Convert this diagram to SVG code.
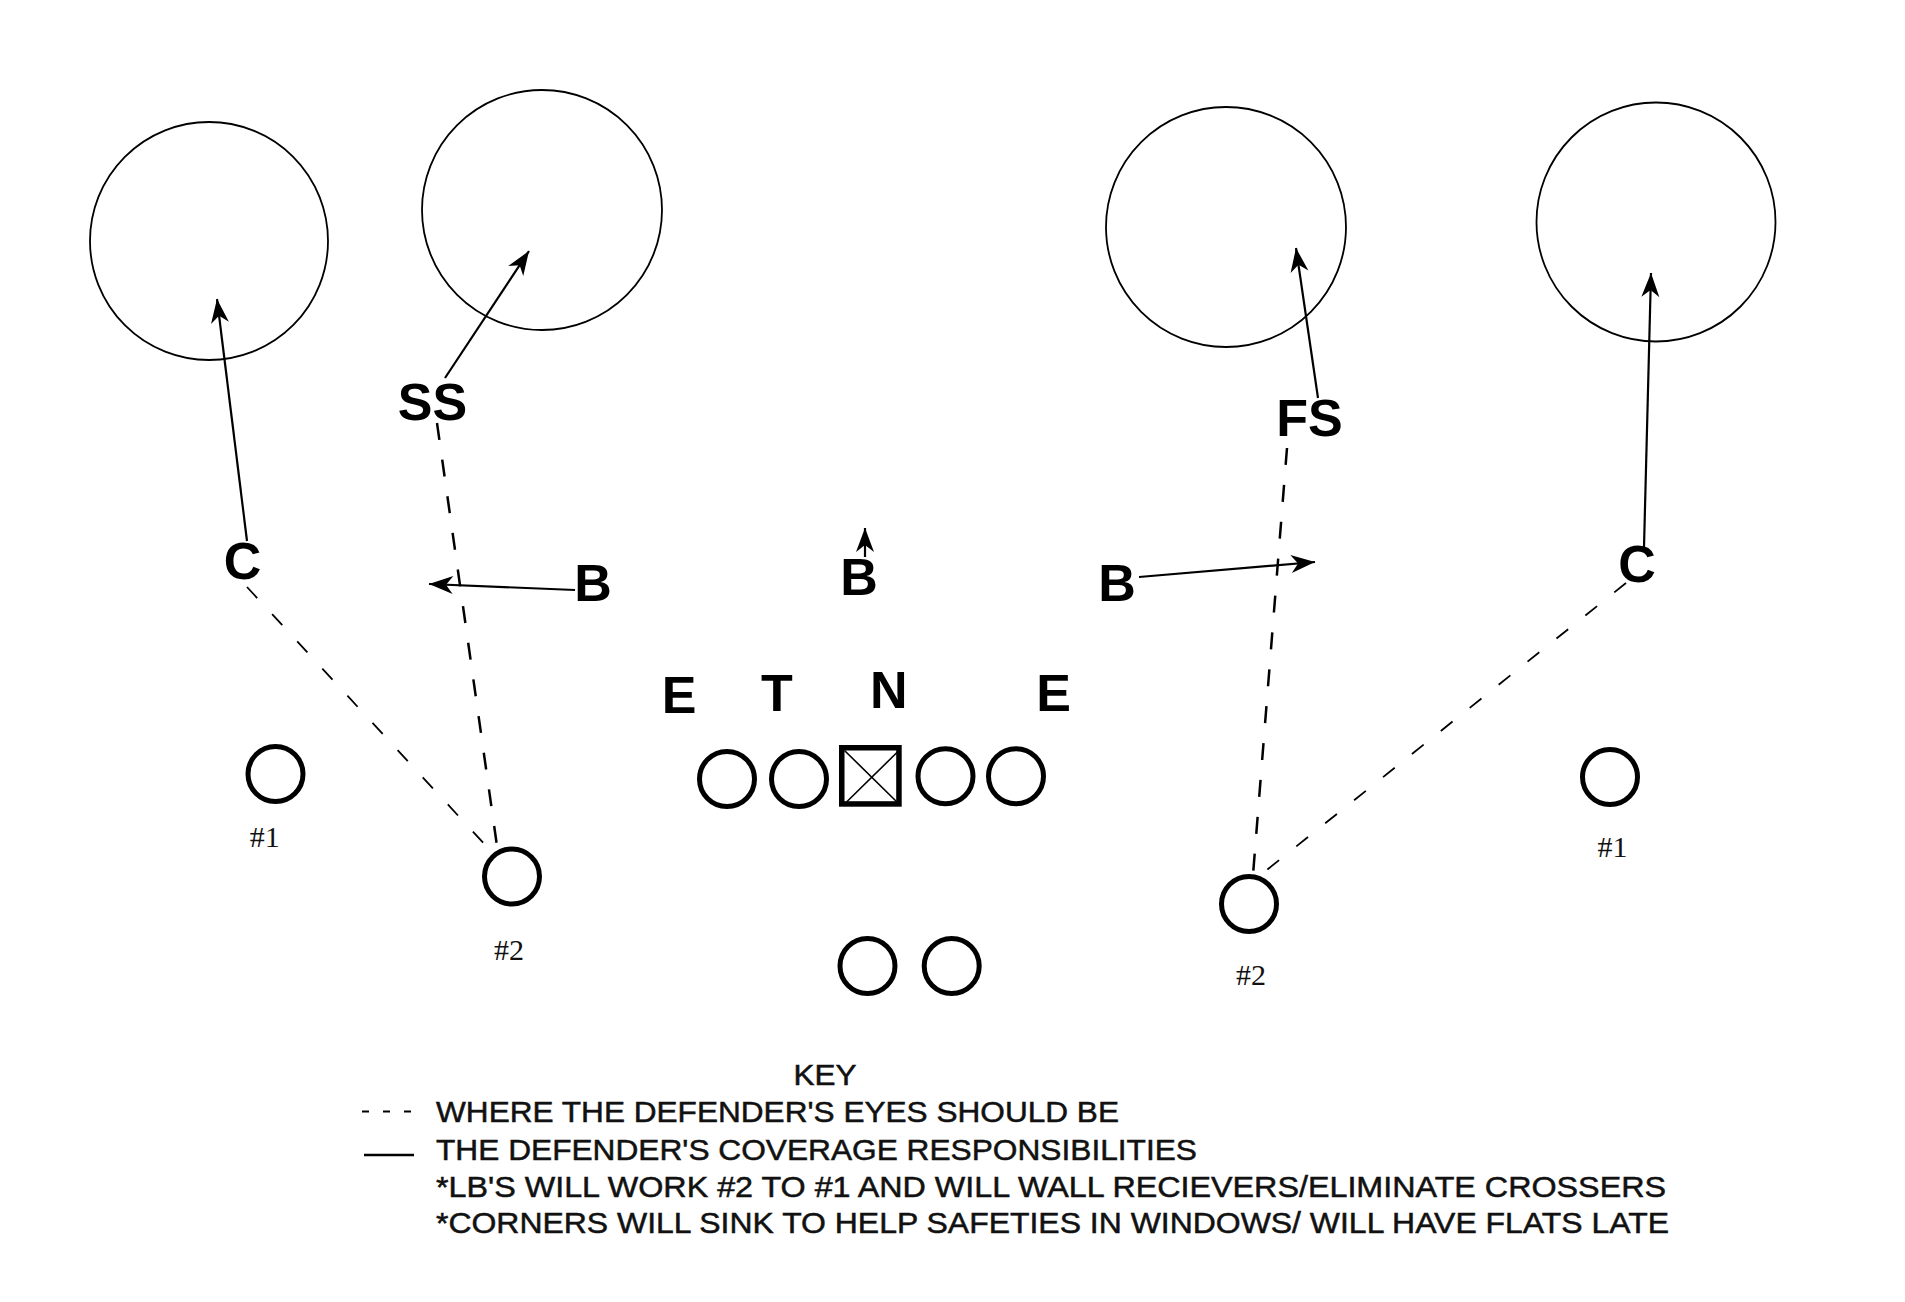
<svg xmlns="http://www.w3.org/2000/svg" width="1905" height="1302" viewBox="0 0 1905 1302">
<style>
.zone{fill:none;stroke:#000;stroke-width:1.8}
.pl{fill:none;stroke:#000;stroke-width:5}
.lbl{font-family:"Liberation Sans",Arial,sans-serif;font-weight:bold;font-size:52px;text-anchor:middle;fill:#000}
.num{font-family:"Liberation Serif","Times New Roman",serif;font-size:30px;text-anchor:middle;fill:#111}
.key{font-family:"Liberation Sans",Arial,sans-serif;font-size:29px;fill:#111;stroke:#111;stroke-width:0.5}
.cov{fill:none;stroke:#000;stroke-width:2.2;marker-end:url(#ah)}
.eye{fill:none;stroke:#000;stroke-width:2.5;stroke-dasharray:17 20}
.eye2{fill:none;stroke:#000;stroke-width:1.8;stroke-dasharray:15 22}
</style>
<defs>
<marker id="ah" markerUnits="userSpaceOnUse" viewBox="-26 -11 28 22" refX="0" refY="0" markerWidth="28" markerHeight="22" orient="auto">
<path d="M0,0 L-24,-9 L-17,0 L-24,9 Z" fill="#000"/>
</marker>
</defs>
<rect width="1905" height="1302" fill="#fff"/>

<g id="zones">
<circle id="zone-c-left" class="zone" cx="209" cy="241" r="119"/>
<circle id="zone-ss" class="zone" cx="542" cy="210" r="120"/>
<circle id="zone-fs" class="zone" cx="1226" cy="227" r="120"/>
<circle id="zone-c-right" class="zone" cx="1656" cy="222" r="119.5"/>
</g>

<g id="connectors">
<line class="cov" x1="247" y1="541" x2="217" y2="299"/>
<line class="cov" x1="445" y1="378" x2="529" y2="251"/>
<line class="cov" x1="1318" y1="398" x2="1296" y2="248"/>
<line class="cov" x1="1644" y1="547" x2="1651" y2="273"/>
<line class="cov" x1="575" y1="590" x2="429" y2="584"/>
<line class="cov" x1="865" y1="557" x2="865" y2="528"/>
<line class="cov" x1="1139" y1="577" x2="1315" y2="562"/>
<line class="eye" x1="437" y1="423" x2="497" y2="846"/>
<line class="eye" x1="1287" y1="448" x2="1253" y2="875"/>
<line class="eye2" x1="247" y1="587" x2="488" y2="848"/>
<line class="eye2" x1="1626" y1="583" x2="1263" y2="873"/>
</g>

<g id="defenders">
<g id="c-left"><text class="lbl" x="242.5" y="579">C</text></g>
<g id="ss"><text class="lbl" x="432.5" y="420">SS</text></g>
<g id="b-left"><text class="lbl" x="593" y="600.5">B</text></g>
<g id="b-mid"><text class="lbl" x="859" y="594.5">B</text></g>
<g id="b-right"><text class="lbl" x="1117" y="600.5">B</text></g>
<g id="fs"><text class="lbl" x="1309.5" y="436">FS</text></g>
<g id="c-right"><text class="lbl" x="1637" y="582">C</text></g>
<g id="e-left"><text class="lbl" x="679" y="713">E</text></g>
<g id="t"><text class="lbl" x="777" y="710.5">T</text></g>
<g id="n"><text class="lbl" x="888.7" y="708.3">N</text></g>
<g id="e-right"><text class="lbl" x="1053.5" y="710.5">E</text></g>
</g>

<g id="offense">
<g id="wr1-left"><circle class="pl" cx="275.5" cy="774" r="27.5"/><text class="num" x="264.7" y="846.7">#1</text></g>
<g id="wr2-left"><circle class="pl" cx="512" cy="876.5" r="27.5"/><text class="num" x="509" y="960">#2</text></g>
<g id="ol1"><circle class="pl" cx="727" cy="779" r="27.5"/></g>
<g id="ol2"><circle class="pl" cx="799" cy="779" r="27.5"/></g>
<g id="center"><rect x="841.75" y="747.75" width="57.2" height="56.2" fill="none" stroke="#000" stroke-width="5.5"/><path d="M844.5,750.5 L899,804 M899,750.5 L844.5,804" stroke="#000" stroke-width="1.6" fill="none"/></g>
<g id="ol3"><circle class="pl" cx="945.5" cy="776.3" r="27.5"/></g>
<g id="ol4"><circle class="pl" cx="1016" cy="776.3" r="27.5"/></g>
<g id="rb1"><circle class="pl" cx="867.5" cy="966" r="27.5"/></g>
<g id="rb2"><circle class="pl" cx="951.7" cy="966" r="27.5"/></g>
<g id="wr2-right"><circle class="pl" cx="1249" cy="904" r="27.5"/><text class="num" x="1251" y="985">#2</text></g>
<g id="wr1-right"><circle class="pl" cx="1610" cy="777" r="27.5"/><text class="num" x="1612.5" y="857">#1</text></g>
</g>

<g id="key">
<text class="key" x="825" y="1084.5" text-anchor="middle" textLength="63" lengthAdjust="spacingAndGlyphs">KEY</text>
<line x1="362" y1="1111.5" x2="412" y2="1111.5" stroke="#000" stroke-width="2" stroke-dasharray="7 14"/>
<text class="key" x="436" y="1122" textLength="683" lengthAdjust="spacingAndGlyphs">WHERE THE DEFENDER'S EYES SHOULD BE</text>
<line x1="364" y1="1155" x2="414" y2="1155" stroke="#000" stroke-width="2.5"/>
<text class="key" x="436" y="1159.5" textLength="761" lengthAdjust="spacingAndGlyphs">THE DEFENDER'S COVERAGE RESPONSIBILITIES</text>
<text class="key" x="436" y="1197" textLength="1230" lengthAdjust="spacingAndGlyphs">*LB'S WILL WORK #2 TO #1 AND WILL WALL RECIEVERS/ELIMINATE CROSSERS</text>
<text class="key" x="436" y="1233" textLength="1233" lengthAdjust="spacingAndGlyphs">*CORNERS WILL SINK TO HELP SAFETIES IN WINDOWS/ WILL HAVE FLATS LATE</text>
</g>
</svg>
